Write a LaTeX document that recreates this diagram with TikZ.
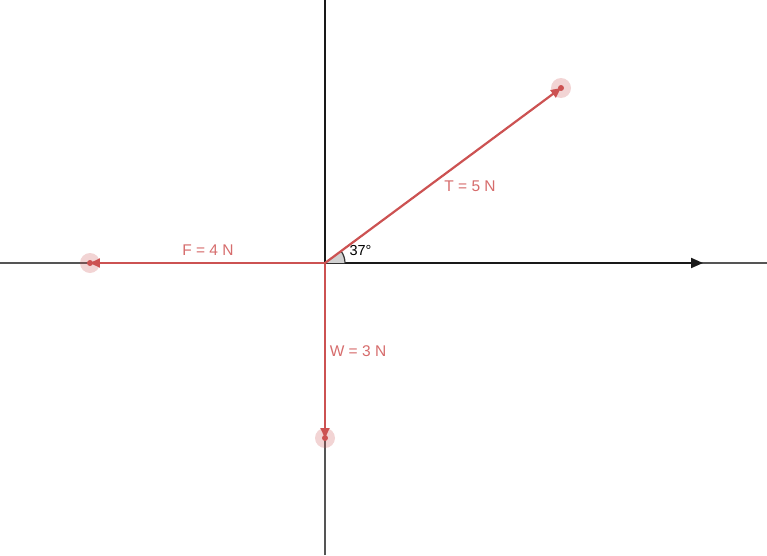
\documentclass[tikz,border=0pt]{standalone}
\usepackage{fontspec}
\setmainfont{Liberation Sans}
\usetikzlibrary{arrows.meta}
\definecolor{vecred}{RGB}{204,82,82}
\definecolor{labred}{RGB}{214,108,108}
\definecolor{axisgrey}{RGB}{85,85,85}
\begin{document}
\begin{tikzpicture}[x=1pt,y=1pt,
    force/.style={vecred,line width=2.2pt,-{Triangle[length=10pt,width=9pt]}},
    halo/.style={circle,fill=vecred,fill opacity=0.25,minimum size=20pt,inner sep=0pt},
    dot/.style={circle,fill=vecred,minimum size=6pt,inner sep=0pt},
    flabel/.style={labred,font=\fontsize{15.5}{18}\selectfont}]

  \useasboundingbox (-325,-292) rectangle (442,263);

  % axes
  \draw[axisgrey,line width=1.5pt] (-325,0) -- (442,0);
  \draw[axisgrey,line width=1.5pt] (0,-292) -- (0,263);
  \coordinate (O) at (0,0);
  \coordinate (X) at (378,0);
  \coordinate (Y) at (0,263);
  \draw[black!90,line width=2pt,-{Triangle[length=12pt,width=10pt]}] (O) -- (X);
  \draw[black!90,line width=2pt] (O) -- (Y);

  % angle
  \fill[black!18] (O) -- (20,0) arc (0:36.87:20) -- cycle;
  \draw[black!80,line width=1.2pt] (20,0) arc (0:36.87:20);
  \node[font=\fontsize{14.5}{17}\selectfont,anchor=west] (ang) at (21,12) {37°};

  % end points of the forces
  \foreach \name/\pos in {T/{(236,175)},F/{(-235,0)},W/{(0,-175)}}
  {
    \node[halo] (\name h) at \pos {};
  }

  \draw[force] (O) -- (Th.center);
  \draw[force] (O) -- (Fh.center);
  \draw[force] (O) -- (Wh.center);

  \foreach \name in {T,F,W}
  {
    \node[dot] (\name p) at (\name h.center) {};
  }

  % labels
  \node[flabel] (Tl) at (145,77) {T = 5 N};
  \node[flabel] (Fl) at (-117,13) {F = 4 N};
  \node[flabel] (Wl) at (33,-88) {W = 3 N};

\end{tikzpicture}
\end{document}
